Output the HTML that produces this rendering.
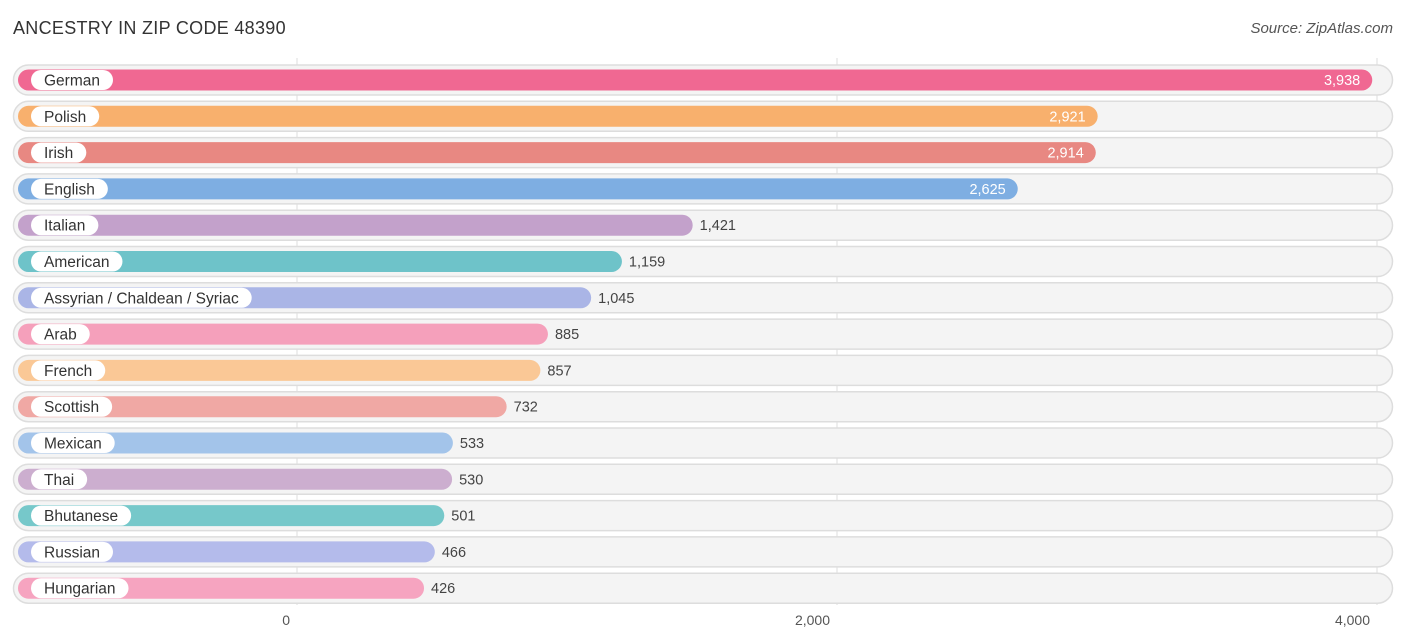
<!DOCTYPE html>
<html><head><meta charset="utf-8"><style>
body{margin:0;background:#fff;font-family:"Liberation Sans",sans-serif;}
#wrap{position:relative;width:1406px;height:644px;overflow:hidden;}
</style></head><body>
<div id="wrap">
<svg id="svg" width="1406" height="644">
<text x="13" y="34" font-size="18" fill="#333" letter-spacing="0.3">ANCESTRY IN ZIP CODE 48390</text>
<text x="1393" y="33" font-size="15" fill="#555" font-style="italic" text-anchor="end">Source: ZipAtlas.com</text>
<g id="grid"></g><g id="rows"></g><g id="ticks"></g>
</svg>
</div>
<script>
const categories=["German","Polish","Irish","English","Italian","American","Assyrian / Chaldean / Syriac","Arab","French","Scottish","Mexican","Thai","Bhutanese","Russian","Hungarian"];
const values=[3938,2921,2914,2625,1421,1159,1045,885,857,732,533,530,501,466,426];
const colors=["#f06892","#f8b06d","#e88882","#7eaee2","#c3a1cb","#6ec3c9","#aab5e6","#f5a0bb","#fac896","#f0a8a4","#a3c4ea","#ccaecf","#76c8ca","#b4bbeb","#f6a4c0"];
const tickValues=[0,2000,4000];
const tickLabels=["0","2,000","4,000"];
const NS="http://www.w3.org/2000/svg";
const x=v=>297+v*0.27;
const y=i=>80+i*36.3;
function mk(tag,attrs,parent){const e=document.createElementNS(NS,tag);for(const k in attrs)e.setAttribute(k,attrs[k]);parent.appendChild(e);return e;}
const grid=document.getElementById('grid'),rows=document.getElementById('rows'),ticks=document.getElementById('ticks');
tickValues.forEach((t,i)=>{
  const l=mk('line',{x1:x(t),x2:x(t),y1:58,y2:605,stroke:'#ddd','stroke-width':1},grid);
  
  
  const tx=mk('text',{x:x(t)-7,y:625,'font-size':14,fill:'#555','text-anchor':'end'},ticks);
  tx.textContent=tickLabels[i];
  
  
});
categories.forEach((c,i)=>{
  const cy=y(i);
  const g=mk('g',{},rows);
  
  
  mk('rect',{x:13.5,y:cy-15,width:1379,height:30,rx:15,fill:'#f4f4f4',stroke:'#ddd','stroke-width':1.5},g);
  const end=x(values[i])+12;
  const b=mk('rect',{x:18,y:cy-10.5,width:end-18,height:21,rx:10.5,fill:colors[i]},g);
  
  
  const lbl=mk('text',{x:44,y:cy+5.5,'font-size':15.5,fill:'#333'},g);
  lbl.textContent=c;
  const w=lbl.getComputedTextLength();
  const pill=mk('rect',{x:31,y:cy-10,width:w+26,height:20,rx:10,fill:'#fff'},g);
  g.insertBefore(pill,lbl);
  
  
  const inside=values[i]>2000;
  const vt=mk('text',{x:inside?end-12:end+7,y:cy+5,'font-size':14.5,fill:inside?'#fff':'#444','text-anchor':inside?'end':'start'},g);
  vt.textContent=values[i].toLocaleString('en-US');
  
  
});
</script>
</body></html>
